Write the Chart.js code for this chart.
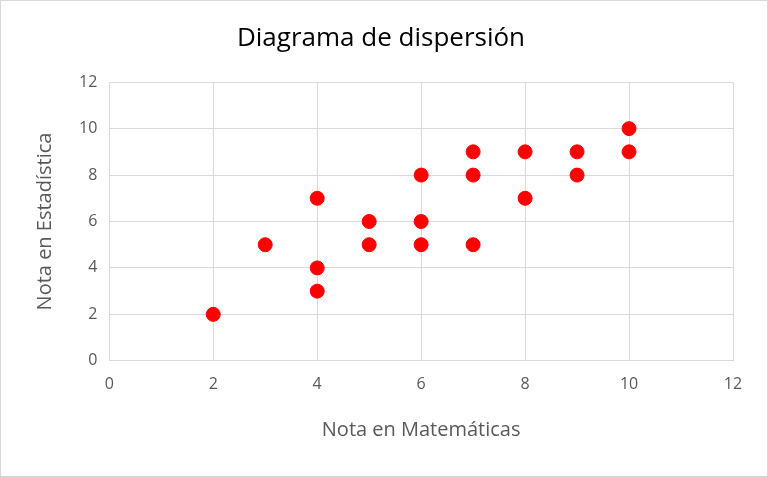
<!DOCTYPE html>
<html><head><meta charset="utf-8">
<script src="https://cdn.jsdelivr.net/npm/chart.js@4"></script>
<style>html,body{margin:0;padding:0;background:#fff}#w{width:766px;height:475px;border:1px solid #d9d9d9}</style>
</head><body><div id="w"><canvas id="c"></canvas></div>
<script>
const mathScores=[2,3,4,4,4,5,5,6,6,6,7,7,7,8,8,9,9,10,10];
const statScores=[2,5,7,4,3,6,5,8,6,5,9,8,5,9,7,9,8,10,9];
const chartTitle="Diagrama de dispersión";
const xTitle="Nota en Matemáticas";
const yTitle="Nota en Estadística";
const pts=mathScores.map((x,i)=>({x,y:statScores[i]}));
new Chart(document.getElementById('c'),{type:'scatter',
data:{datasets:[{data:pts,backgroundColor:'#ff0000',borderColor:'#ff0000',pointRadius:7,pointHoverRadius:7}]},
options:{responsive:true,maintainAspectRatio:false,animation:false,
layout:{padding:{left:28,right:34,top:14,bottom:30}},
plugins:{legend:{display:false},tooltip:{enabled:false},
title:{display:true,text:chartTitle,color:'#000',font:{family:'Open Sans',size:26,weight:'normal'},padding:{top:8,bottom:28}}},
scales:{
x:{min:0,max:12,ticks:{stepSize:2,color:'#595959',font:{family:'Open Sans',size:16},padding:14},
grid:{color:'#d9d9d9',drawTicks:false},border:{display:false},
title:{display:true,text:xTitle,color:'#595959',font:{family:'Open Sans',size:20},padding:{top:10}}},
y:{min:0,max:12,ticks:{stepSize:2,color:'#595959',font:{family:'Open Sans',size:16},padding:12},
grid:{color:'#d9d9d9',drawTicks:false},border:{display:false},
title:{display:true,text:yTitle,color:'#595959',font:{family:'Open Sans',size:20},padding:{bottom:10}}}
}}});
</script></body></html>
